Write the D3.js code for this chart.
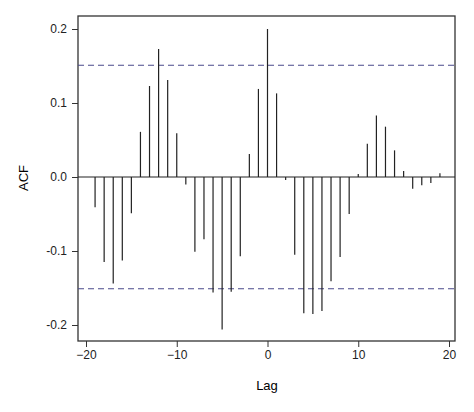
<!DOCTYPE html><html><head><meta charset="utf-8"><script src="https://cdn.jsdelivr.net/npm/d3@7"></script>
<style>body{margin:0;background:#fff}text{font-family:"Liberation Sans",Arial,sans-serif}</style></head><body><svg width="474" height="412"></svg><script>
const lags=d3.range(-19,20);
const acf=[-0.041,-0.115,-0.144,-0.113,-0.049,0.061,0.123,0.173,0.131,0.059,-0.01,-0.101,-0.084,-0.156,-0.206,-0.155,-0.107,0.031,0.119,0.2,0.113,-0.004,-0.105,-0.184,-0.185,-0.181,-0.141,-0.108,-0.05,0.004,0.045,0.083,0.068,0.036,0.008,-0.016,-0.011,-0.008,0.005];
const ci=0.151;
const xTicks=[-20,-10,0,10,20], yTicks=[-0.2,-0.1,0,0.1,0.2];
const svg=d3.select("svg");
const L=78,R=455,T=16,B=341;
const x=d3.scaleLinear().domain([-20,20]).range([86,449]);
const y=d3.scaleLinear().domain([-0.2,0.2]).range([325,29]);
svg.append("rect").attr("x",L).attr("y",T).attr("width",R-L).attr("height",B-T).attr("fill","none").attr("stroke","#333").attr("stroke-width",1.3);
svg.append("line").attr("x1",L).attr("x2",R).attr("y1",y(0)).attr("y2",y(0)).attr("stroke","#222").attr("stroke-width",1.2);
[ci,-ci].forEach(v=>svg.append("line").attr("x1",L).attr("x2",R).attr("y1",y(v)).attr("y2",y(v)).attr("stroke","#4a4a8a").attr("stroke-width",1.2).attr("stroke-dasharray","6,4"));
svg.selectAll(".b").data(lags).enter().append("line").attr("x1",d=>x(d)).attr("x2",d=>x(d)).attr("y1",y(0)).attr("y2",(d,i)=>y(acf[i])).attr("stroke","#222").attr("stroke-width",1.2);
const xa=svg.append("g").attr("transform",`translate(0,${B})`).call(d3.axisBottom(x).tickValues(xTicks).tickSize(6).tickFormat(d=>d<0?"\u2212"+(-d):d));
const ya=svg.append("g").attr("transform",`translate(${L},0)`).call(d3.axisLeft(y).tickValues(yTicks).tickSize(6).tickFormat(d=>d===0?"0.0":(d<0?"-"+(-d).toFixed(1):d.toFixed(1))));
[xa,ya].forEach(a=>{a.select(".domain").remove();a.selectAll("line").attr("stroke","#333");a.selectAll("text").attr("font-size",12).attr("fill","#222");});
ya.selectAll("text").attr("dx",-2);
svg.append("text").attr("x",267).attr("y",390).attr("text-anchor","middle").attr("font-size",13).text("Lag");
svg.append("text").attr("transform","translate(28,178) rotate(-90)").attr("text-anchor","middle").attr("font-size",13).text("ACF");
</script></body></html>
